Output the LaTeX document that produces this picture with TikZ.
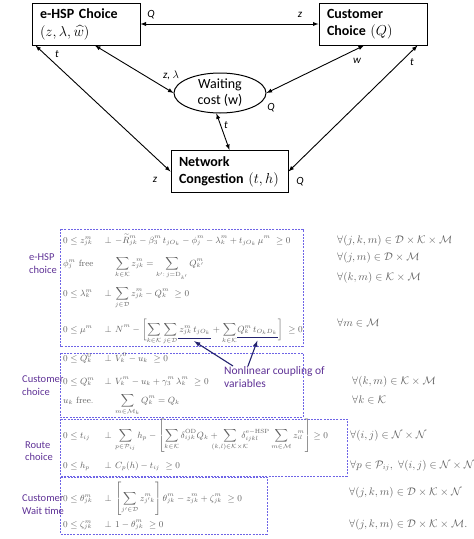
\documentclass[tikz,border=0pt]{standalone}
\usepackage{amsmath}
\usepackage{amssymb}
\usepackage{fontspec}
\setsansfont{Carlito}
\usepackage{tikz}
\usetikzlibrary{shapes.geometric,positioning}

\definecolor{eqgray}{RGB}{95,95,95}
\definecolor{zoneblue}{RGB}{110,100,230}
\definecolor{grppurple}{RGB}{95,50,150}
\definecolor{dkblue}{RGB}{35,35,110}

\newcommand{\ccrow}[2]{\makebox[38pt][l]{$#1$}\makebox[14pt][c]{$\perp$}$\displaystyle #2$}

\begin{document}
\begin{tikzpicture}[x=1pt, y=-1pt,
    main/.style = {draw, line width=1pt, rectangle, inner xsep=8pt, minimum height=42pt, align=left, font=\sffamily\bfseries\fontsize{14}{17}\selectfont},
    wait/.style = {draw, line width=1pt, ellipse, minimum width=92pt, minimum height=40pt, inner sep=0pt, align=center, font=\sffamily\fontsize{14}{16}\selectfont},
    link/.style = {latex-latex, line width=0.9pt},
    lbl/.style = {inner sep=0pt, font=\sffamily\itshape\fontsize{11}{13}\selectfont},
    grp/.style = {anchor=west, inner sep=0pt, align=left, text=grppurple, font=\sffamily\fontsize{10.5}{12.5}\selectfont},
    eq/.style = {anchor=base west, inner sep=0pt, text=eqgray, font=\small},
    cond/.style = {anchor=base west, inner sep=0pt, text=eqgray, font=\fontsize{10.5}{12}\selectfont},
    zone/.style = {draw=zoneblue, line width=0.9pt, dash pattern=on 2pt off 1.2pt},
    coupling/.style = {-latex, dkblue, line width=1.1pt}]
    \useasboundingbox (0,0) rectangle (474,539);

    % upper diagram
    \node[main, text width=92pt] (1) at (86,24) {e-HSP Choice\\[1pt]$(z,\lambda,\widehat{w})$};
    \node[main, text width=92pt] (2) at (373,24) {Customer\\Choice $(Q)$};
    \node[main, text width=101pt] (3) at (229.5,171.5) {Network\\Congestion $(t,h)$};
    \node[wait] (4) at (220,93) {Waiting\\cost (w)};
    \draw[link] (2.west) -- (1.east);
    \draw[link] ([xshift=4pt]1.south west) -- (3.west);
    \draw[link] ([xshift=9pt]1.south) -- (4.west);
    \draw[link] (4.260) -- (3.north);
    \draw[link] ([xshift=-9pt]2.south) -- (4.east);
    \draw[link] ([xshift=-10pt]2.south east) -- (3.east);
    \node[lbl] (q1) at (151,15) {Q};
    \node[lbl] (z1) at (300,15) {z};
    \node[lbl] (t1) at (57,54) {t};
    \node[lbl] (z2) at (155,180) {z};
    \node[lbl] (zl) at (171,75) {z, $\lambda$};
    \node[lbl] (t2) at (226,125) {t};
    \node[lbl] (w1) at (357,61) {w};
    \node[lbl] (q2) at (271,108) {Q};
    \node[lbl] (t3) at (412,62) {t};
    \node[lbl] (q3) at (300,182) {Q};

    % groups
    \draw[zone] (60,229) rectangle (303,346);
    \draw[zone] (60,353) rectangle (303,417);
    \draw[zone] (60,419) rectangle (347,476);
    \draw[zone] (60,477) rectangle (267,534);
    \node[grp] (g1) at (29,263.5) {e-HSP\\choice};
    \node[grp] (g2) at (22,385.5) {Customer\\choice};
    \node[grp] (g3) at (25,451) {Route\\choice};
    \node[grp] (g4) at (22,504.5) {Customer\\Wait time};

    % conditions
    \node[eq] (r1) at (63,243) {\ccrow{0\le z^m_{jk}}{-\widetilde{R}^m_{jk}-\beta^m_3\,t_{jO_k}-\phi^m_j-\lambda^m_k+t_{jO_k}\,\mu^m\ \ge 0}};
    \node[eq] (r2) at (63,266) {\makebox[52pt][l]{$\phi^m_j$ free}$\displaystyle\sum_{k\in\mathcal{K}} z^m_{jk} = \sum_{k':\,j=\mathrm{D}_{k'}} Q^m_{k'}$};
    \node[eq] (r3) at (63,296) {\ccrow{0\le \lambda^m_k}{\sum_{j\in\mathcal{D}} z^m_{jk}-Q^m_k\ \ge 0}};
    \node[eq] (r4a) at (63,332) {\ccrow{0\le \mu^m}{N^m-\biggl[\sum_{k\in\mathcal{K}}\sum_{j\in\mathcal{D}}}};
    \node[eq] (u1) at (r4a.base east) {$\,z^m_{jk}\,t_{jO_k}$};
    \node[eq] (r4b) at (u1.base east) {$\displaystyle{}+\sum_{k\in\mathcal{K}}$};
    \node[eq] (u2) at (r4b.base east) {$Q^m_k\,t_{O_kD_k}$};
    \node[eq] (r4c) at (u2.base east) {$\biggr]\ \ge 0$};
    \node[eq] (r5) at (63,361) {\ccrow{0\le Q^0_k}{V^0_k-u_k\ \ge 0}};
    \node[eq] (r6) at (63,384) {\ccrow{0\le Q^m_k}{V^m_k-u_k+\gamma^m_3\,\lambda^m_k\ \ge 0}};
    \node[eq] (r7) at (63,403) {\makebox[52pt][l]{$u_k$ free.}$\displaystyle\sum_{m\in\mathcal{M}_k} Q^m_k = Q_k$};
    \node[eq] (r8) at (63,438) {\ccrow{0\le t_{ij}}{\sum_{p\in\mathcal{P}_{ij}} h_p-\left[\sum_{k\in\mathcal{K}}\delta^{\mathrm{OD}}_{ijk}Q_k+\sum_{\makebox[20pt]{$\scriptstyle(k,l)\in\mathcal{K}\times\mathcal{K}$}}\delta^{\mathrm{e{-}HSP}}_{ijkl}\sum_{m\in\mathcal{M}} z^m_{il}\right]\ge 0}};
    \node[eq] (r9) at (63,468) {\ccrow{0\le h_p}{C_p(h)-t_{ij}\ \ge 0}};
    \node[eq] (r10) at (63,501) {\ccrow{0\le \theta^m_{jk}}{\left[\sum_{j'\in\mathcal{D}} z^m_{j'k}\right]\theta^m_{jk}-z^m_{jk}+\zeta^m_{jk}\ \ge 0}};
    \node[eq] (r11) at (63,527) {\ccrow{0\le \zeta^m_{jk}}{1-\theta^m_{jk}\ \ge 0}};

    \node[cond] (a1) at (337,243) {$\forall (j,k,m)\in\mathcal{D}\times\mathcal{K}\times\mathcal{M}$};
    \node[cond] (a2) at (337,260) {$\forall (j,m)\in\mathcal{D}\times\mathcal{M}$};
    \node[cond] (a3) at (337,280) {$\forall (k,m)\in\mathcal{K}\times\mathcal{M}$};
    \node[cond] (a4) at (337,326) {$\forall m\in\mathcal{M}$};
    \node[cond] (a5) at (352,384) {$\forall (k,m)\in\mathcal{K}\times\mathcal{M}$};
    \node[cond] (a6) at (352,403) {$\forall k\in\mathcal{K}$};
    \node[cond] (a7) at (350,438) {$\forall (i,j)\in\mathcal{N}\times\mathcal{N}$};
    \node[cond] (a8) at (350,468) {$\forall p\in\mathcal{P}_{ij},\ \forall (i,j)\in\mathcal{N}\times\mathcal{N}$};
    \node[cond] (a9) at (349,495) {$\forall (j,k,m)\in\mathcal{D}\times\mathcal{K}\times\mathcal{N}$};
    \node[cond] (a10) at (349,527) {$\forall (j,k,m)\in\mathcal{D}\times\mathcal{K}\times\mathcal{M}.$};

    % coupling note
    \draw[dkblue, line width=1.2pt] ([yshift=-3pt]u1.south west) -- ([yshift=-3pt]u1.south east);
    \draw[dkblue, line width=1.2pt] ([yshift=-3pt]u2.south west) -- ([yshift=-3pt]u2.south east);
    \node[grp, anchor=north west, font=\sffamily\fontsize{11.5}{13.5}\selectfont] (nl) at (224,366) {Nonlinear coupling of\\variables};
    \draw[coupling] ([xshift=9pt]nl.north west) -- ([yshift=-6pt]u1.south);
    \draw[coupling] ([xshift=24pt]nl.north west) -- ([yshift=-6pt]u2.south);
\end{tikzpicture}
\end{document}
